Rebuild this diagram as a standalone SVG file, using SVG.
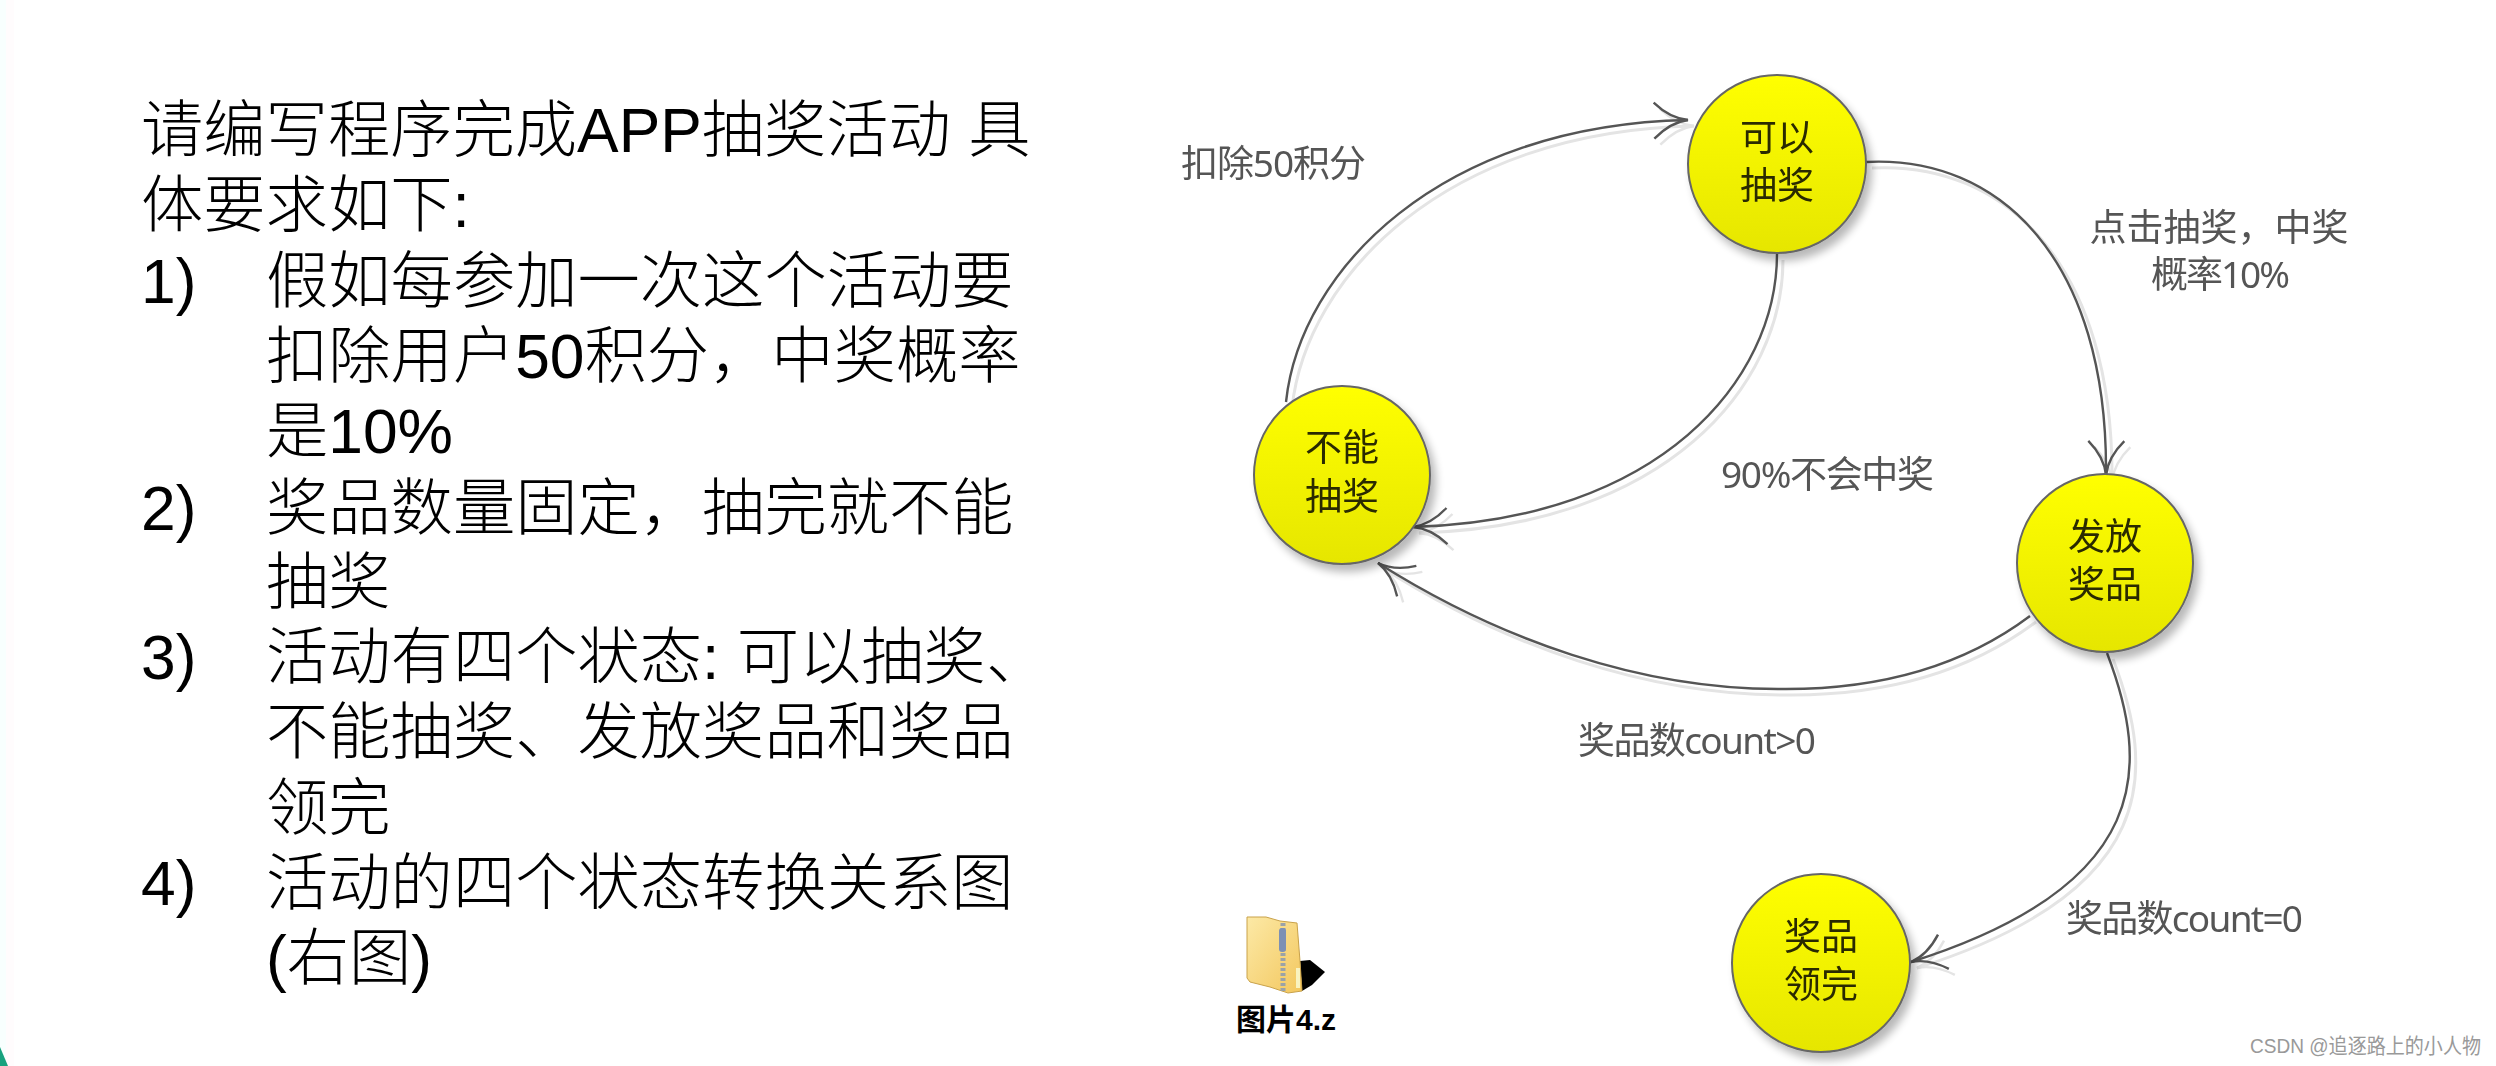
<svg xmlns="http://www.w3.org/2000/svg" width="2496" height="1066" viewBox="0 0 2496 1066">
<style>
text{font-family:"Liberation Sans","Noto Sans CJK SC",sans-serif}
.body{font-size:62.3px;fill:#000;font-weight:300}
.lab{font-family:"Noto Sans","Noto Sans CJK SC",sans-serif;font-size:37px;fill:#555;filter:url(#soft)}
.nt{font-family:"Noto Sans CJK SC",sans-serif;font-size:37px;fill:#2c2c00;text-anchor:middle;filter:url(#soft)}
.st{fill:url(#yel);stroke:#666;stroke-width:2;filter:url(#ds)}
.edge{fill:none;stroke:#555;stroke-width:2.4;marker-end:url(#arr)}
.ghost{fill:none;stroke:#e4e4e4;stroke-width:3;marker-end:url(#arrg)}
</style>
<defs>
<linearGradient id="yel" x1="0" y1="0" x2="0" y2="1"><stop offset="0" stop-color="#ffff00"/><stop offset="1" stop-color="#e6e600"/></linearGradient>
<linearGradient id="fold" x1="0" y1="0" x2="1" y2="1"><stop offset="0" stop-color="#fce9a6"/><stop offset="1" stop-color="#f3c75e"/></linearGradient>
<filter id="ds" x="-20%" y="-20%" width="150%" height="150%"><feGaussianBlur in="SourceGraphic" stdDeviation="0.7" result="s"/><feGaussianBlur in="SourceAlpha" stdDeviation="4"/><feOffset dx="5" dy="7"/><feComponentTransfer><feFuncA type="linear" slope="0.28"/></feComponentTransfer><feMerge><feMergeNode/><feMergeNode in="s"/></feMerge></filter>
<filter id="soft" x="-5%" y="-20%" width="110%" height="140%"><feGaussianBlur stdDeviation="0.6"/></filter>
<marker id="arr" markerUnits="userSpaceOnUse" markerWidth="44" markerHeight="44" refX="38" refY="22" orient="auto" overflow="visible"><path d="M4 4Q20 20 38 22Q20 24 4 40" fill="none" stroke="#555" stroke-width="2.4"/></marker>
<marker id="arrg" markerUnits="userSpaceOnUse" markerWidth="44" markerHeight="44" refX="38" refY="22" orient="auto" overflow="visible"><path d="M4 4Q20 20 38 22Q20 24 4 40" fill="none" stroke="#e4e4e4" stroke-width="2.4"/></marker>
</defs>
<rect width="2496" height="1066" fill="#fff"/>
<rect x="0" y="0" width="6" height="1066" fill="#f8fffe"/>
<rect x="6" y="0" width="8" height="1066" fill="#fffcfd"/>
<polygon points="0,1047 8,1066 0,1066" fill="#17a27e"/>
<g id="body-text">
<text class="body" x="141" y="152">请编写程序完成APP抽奖活动 具</text>
<text class="body" x="141" y="227">体要求如下:</text>
<text class="body" x="141" y="303">1)</text>
<text class="body" x="266" y="303">假如每参加一次这个活动要</text>
<text class="body" x="266" y="378">扣除用户50积分，中奖概率</text>
<text class="body" x="266" y="453">是10%</text>
<text class="body" x="141" y="530">2)</text>
<text class="body" x="266" y="530">奖品数量固定，抽完就不能</text>
<text class="body" x="266" y="604">抽奖</text>
<text class="body" x="141" y="679">3)</text>
<text class="body" x="266" y="679">活动有四个状态: 可以抽奖、</text>
<text class="body" x="266" y="754">不能抽奖、发放奖品和奖品</text>
<text class="body" x="266" y="830">领完</text>
<text class="body" x="141" y="905">4)</text>
<text class="body" x="266" y="905">活动的四个状态转换关系图</text>
<text class="body" x="266" y="980">(右图)</text>
</g>
<g id="connectors">
<path class="ghost" transform="translate(6,6)" d="M1286 402C1300 270 1440 125 1688 120"/>
<path class="ghost" transform="translate(6,6)" d="M1777 254C1777 380 1660 520 1413 527"/>
<path class="ghost" transform="translate(6,6)" d="M2030 616Q1930 691 1778 689C1640 689 1500 640 1378 563"/>
<path class="ghost" transform="translate(6,6)" d="M1866 162C2000 155 2108 260 2106 475"/>
<path class="ghost" transform="translate(6,6)" d="M2107 653C2150 765 2155 885 1911 962"/>
<path id="e1" class="edge" d="M1286 402C1300 270 1440 125 1688 120"/>
<path id="e2" class="edge" d="M1777 254C1777 380 1660 520 1413 527"/>
<path id="e3" class="edge" d="M2030 616Q1930 691 1778 689C1640 689 1500 640 1378 563"/>
<path id="e4" class="edge" d="M1866 162C2000 155 2108 260 2106 475"/>
<path id="e5" class="edge" d="M2107 653C2150 765 2155 885 1911 962"/>
</g>
<g id="node-can"><ellipse class="st" cx="1777" cy="164" rx="89" ry="89"/><text class="nt" x="1777" y="151">可以</text><text class="nt" x="1777" y="199">抽奖</text></g>
<g id="node-cannot"><ellipse class="st" cx="1342" cy="475" rx="88" ry="89"/><text class="nt" x="1342" y="461">不能</text><text class="nt" x="1342" y="510">抽奖</text></g>
<g id="node-dispense"><ellipse class="st" cx="2105" cy="563" rx="88" ry="89"/><text class="nt" x="2105" y="550">发放</text><text class="nt" x="2105" y="598">奖品</text></g>
<g id="node-empty"><ellipse class="st" cx="1821" cy="963" rx="89" ry="89"/><text class="nt" x="1821" y="950">奖品</text><text class="nt" x="1821" y="998">领完</text></g>
<g id="labels">
<text class="lab" x="1181" y="177" textLength="185">扣除50积分</text>
<text class="lab" x="2219" y="241" text-anchor="middle">点击抽奖，中奖</text>
<text class="lab" x="2151" y="288" textLength="139">概率10%</text>
<text class="lab" x="1721" y="488" textLength="213">90%不会中奖</text>
<text class="lab" x="1578" y="754" textLength="238">奖品数count&gt;0</text>
<text class="lab" x="2066" y="932" textLength="237">奖品数count=0</text>
</g>
<g id="file-icon">
<polygon points="1300,961 1310,960 1325,972 1312,985 1302,991" fill="#000"/>
<polygon points="1247,917 1266,917 1280,921 1297,923 1300,961 1302,991 1288,993 1270,987 1250,982 1247,978" fill="url(#fold)" stroke="#c9a24a" stroke-width="1"/>
<path d="M1283 923V991" stroke="#9aa2a8" stroke-width="5" stroke-dasharray="3 2" fill="none"/>
<rect x="1279" y="928" width="7" height="24" rx="3" fill="#7d90b4"/>
<rect x="1296" y="968" width="4" height="20" fill="#f9f3c0"/>
<text x="1236" y="1030" font-size="30" font-weight="700" fill="#000">图片4.z</text>
</g>
<text id="watermark" x="2250" y="1053" font-size="21" fill="#999" textLength="231" lengthAdjust="spacingAndGlyphs">CSDN @追逐路上的小人物</text>
</svg>
